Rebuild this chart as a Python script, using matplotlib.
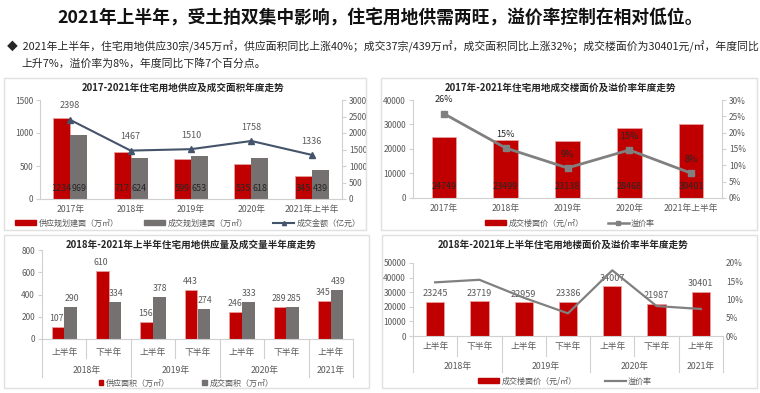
import matplotlib
matplotlib.use("Agg")
import matplotlib.pyplot as plt
import numpy as np
from matplotlib.patches import Rectangle, Patch
from matplotlib.lines import Line2D
from matplotlib.ticker import FuncFormatter
import matplotlib.transforms as mtrans

plt.rcParams['font.family'] = ['Noto Sans CJK SC', 'DejaVu Sans']

# ---- data ----
years = ["2017年", "2018年", "2019年", "2020年", "2021年上半年"]
supply_area = [1234, 717, 599, 535, 345]
deal_area = [969, 624, 653, 618, 439]
deal_amount = [2398, 1467, 1510, 1758, 1336]

floor_price = [24749, 23499, 23138, 28468, 30401]
premium_rate = [25.8, 15.3, 9.2, 14.7, 7.6]

half_labels = ["上半年", "下半年", "上半年", "下半年", "上半年", "下半年", "上半年"]
half_groups = ["2018年", "2019年", "2020年", "2021年"]
group_sizes = [2, 2, 2, 1]
half_supply = [107, 610, 156, 443, 246, 289, 345]
half_deal = [290, 334, 378, 274, 333, 285, 439]

half_price = [23245, 23719, 22959, 23386, 34007, 21987, 30401]
half_rate = [14.7, 15.4, 10.5, 6.2, 18.0, 8.2, 7.4]

RED = "#C00000"
GRAY = "#767171"
LINE_BLUE = "#44546A"
LINE_GRAY = "#808080"
AX_COL = "#D0D0D0"
TXT = "#595959"

W, H = 760, 393
fig = plt.figure(figsize=(W / 100, H / 100), dpi=100)


def rect(x0, y0, x1, y1):
    return [x0 / W, 1 - y1 / H, (x1 - x0) / W, (y1 - y0) / H]


def fx(x):
    return x / W


def fy(y):
    return 1 - y / H


def style_axis(ax, right=False):
    ax.spines["top"].set_visible(False)
    ax.spines["right"].set_visible(right)
    for s in ["left", "bottom", "right"]:
        ax.spines[s].set_color(AX_COL)
        ax.spines[s].set_linewidth(0.8)
    ax.tick_params(axis="y", length=3, color=AX_COL, labelsize=6, labelcolor=TXT, pad=2)
    ax.tick_params(axis="x", length=0, labelsize=6.3, labelcolor=TXT, pad=4)


# panel frames
for x0, y0, x1, y1 in [(4, 78, 366, 230), (381, 78, 757, 230), (4, 235, 369, 388), (382, 235, 757, 388)]:
    fig.add_artist(Rectangle((fx(x0), fy(y1)), (x1 - x0) / W, (y1 - y0) / H,
                             transform=fig.transFigure, facecolor="none",
                             edgecolor="#E0E0E0", linewidth=1))

# header
fig.text(0.5, fy(18), "2021年上半年，受土拍双集中影响，住宅用地供需两旺，溢价率控制在相对低位。",
         ha="center", va="center", fontsize=12.8, fontweight="bold", color="#111111")
fig.text(fx(7), fy(47), "◆  2021年上半年，住宅用地供应30宗/345万㎡，供应面积同比上涨40%；成交37宗/439万㎡，"
         "成交面积同比上涨32%；成交楼面价为30401元/㎡，年度同比",
         ha="left", va="center", fontsize=7.8, color="#262626")
fig.text(fx(21), fy(63), "上升7%，溢价率为8%，年度同比下降7个百分点。",
         ha="left", va="center", fontsize=7.8, color="#262626")

# ---- chart 1: top left ----
ax1 = fig.add_axes(rect(40, 100, 342, 199))
x = np.arange(len(years))
bw = 0.28
ax1.bar(x - bw / 2, supply_area, bw, color=RED, edgecolor="#E8A0A0", linewidth=0.6)
ax1.bar(x + bw / 2, deal_area, bw, color=GRAY)
ax1.set_xlim(-0.5, len(years) - 0.5)
ax1.set_ylim(0, 1500)
ax1.set_yticks(range(0, 1501, 500))
ax1.set_xticks(x)
ax1.set_xticklabels(years)
style_axis(ax1)
for i in range(len(years)):
    ax1.text(x[i] - bw / 2, 160, str(supply_area[i]), ha="center", va="center", fontsize=6.5, color="#262626")
    ax1.text(x[i] + bw / 2, 160, str(deal_area[i]), ha="center", va="center", fontsize=6.5, color="#262626")
ax1b = ax1.twinx()
ax1b.plot(x, deal_amount, color=LINE_BLUE, linewidth=1.5, marker="^", markersize=4)
ax1b.set_ylim(0, 3000)
ax1b.set_yticks(range(0, 3001, 500))
style_axis(ax1b, right=True)
ax1b.spines["left"].set_visible(False)
ax1b.spines["bottom"].set_visible(False)
for i in range(len(years)):
    ax1b.annotate(str(deal_amount[i]), (x[i], deal_amount[i]), xytext=(0, 10), textcoords="offset points",
                  ha="center", va="center", fontsize=6.5, color=TXT)
fig.text(fx(183), fy(88), "2017-2021年住宅用地供应及成交面积年度走势", ha="center", va="center",
         fontsize=6.9, fontweight="bold", color="#262626")
fig.legend(handles=[Patch(color=RED, label="供应规划建面（万㎡）"),
                    Patch(color=GRAY, label="成交规划建面（万㎡）"),
                    Line2D([], [], color=LINE_BLUE, marker="^", markersize=3, lw=1.5, label="成交金额（亿元）")],
           loc="center", bbox_to_anchor=(fx(188), fy(223)), ncol=3, frameon=False, fontsize=5.8,
           handlelength=2.6, handleheight=0.6, columnspacing=3.2, handletextpad=0.3, labelcolor=TXT)

# ---- chart 2: top right ----
ax2 = fig.add_axes(rect(413, 100, 722, 198))
bw2 = 0.4
ax2.bar(x, floor_price, bw2, color=RED, edgecolor="#E8A0A0", linewidth=0.6)
ax2.set_xlim(-0.5, len(years) - 0.5)
ax2.set_ylim(0, 40000)
ax2.set_yticks(range(0, 40001, 10000))
ax2.set_xticks(x)
ax2.set_xticklabels(years)
style_axis(ax2)
for i in range(len(years)):
    ax2.text(x[i], 4500, str(floor_price[i]), ha="center", va="center", fontsize=6.5, color="#262626")
ax2b = ax2.twinx()
ax2b.plot(x, premium_rate, color=LINE_GRAY, linewidth=2, marker="s", markersize=4)
ax2b.set_ylim(0, 30)
ax2b.set_yticks(range(0, 31, 5))
ax2b.yaxis.set_major_formatter(FuncFormatter(lambda v, p: f"{v:.0f}%"))
style_axis(ax2b, right=True)
ax2b.spines["left"].set_visible(False)
ax2b.spines["bottom"].set_visible(False)
for i in range(len(years)):
    ax2b.annotate(f"{premium_rate[i]:.0f}%", (x[i], premium_rate[i]), xytext=(0, 10), textcoords="offset points",
                  ha="center", va="center", fontsize=6.5, color="#262626")
fig.text(fx(561), fy(88), "2017年-2021年住宅用地成交楼面价及溢价率年度走势", ha="center", va="center",
         fontsize=6.9, fontweight="bold", color="#262626")
fig.legend(handles=[Patch(color=RED, label="成交楼面价（元/㎡）"),
                    Line2D([], [], color=LINE_GRAY, marker="s", markersize=3, lw=1.8, label="溢价率")],
           loc="center", bbox_to_anchor=(fx(570), fy(223)), ncol=2, frameon=False, fontsize=5.8,
           handlelength=2.6, handleheight=0.6, columnspacing=3.0, handletextpad=0.3, labelcolor=TXT)


def group_axis(ax, ax_h, y_sub, y_grp, y_short, y_long):
    tr = mtrans.blended_transform_factory(ax.transData, ax.transAxes)
    n = len(half_labels)
    for i, lab in enumerate(half_labels):
        ax.text(i, -y_sub / ax_h, lab, transform=tr, ha="center", va="center", fontsize=6.3, color=TXT)
    start = 0
    bounds = [-0.5]
    for g, size in zip(half_groups, group_sizes):
        ax.text(start + (size - 1) / 2, -y_grp / ax_h, g, transform=tr, ha="center", va="center",
                fontsize=6.3, color=TXT)
        for k in range(1, size):
            xs = start + k - 0.5
            ax.plot([xs, xs], [0, -y_short / ax_h], transform=tr, color=AX_COL, lw=0.8, clip_on=False)
        start += size
        bounds.append(start - 0.5)
    for xs in bounds:
        ax.plot([xs, xs], [0, -y_long / ax_h], transform=tr, color=AX_COL, lw=0.8, clip_on=False)
    ax.set_xticks([])
    ax.set_xlim(-0.5, n - 0.5)


# ---- chart 3: bottom left ----
ax3 = fig.add_axes(rect(42, 250, 353, 339))
xh = np.arange(len(half_labels))
bw3 = 0.285
ax3.bar(xh - bw3 / 2, half_supply, bw3, color=RED, edgecolor="#E8A0A0", linewidth=0.6)
ax3.bar(xh + bw3 / 2, half_deal, bw3, color=GRAY)
ax3.set_ylim(0, 800)
ax3.set_yticks(range(0, 801, 200))
style_axis(ax3)
for i in range(len(xh)):
    ax3.annotate(str(half_supply[i]), (xh[i] - bw3 / 2, half_supply[i]), xytext=(-0.8, 6),
                 textcoords="offset points", ha="center", va="center", fontsize=6.3, color=TXT)
    ax3.annotate(str(half_deal[i]), (xh[i] + bw3 / 2, half_deal[i]), xytext=(0.8, 6),
                 textcoords="offset points", ha="center", va="center", fontsize=6.3, color=TXT)
group_axis(ax3, 89, 13, 31, 19, 38)
fig.text(fx(191), fy(245), "2018年-2021年上半年住宅用地供应量及成交量半年度走势", ha="center", va="center",
         fontsize=6.9, fontweight="bold", color="#262626")
fig.legend(handles=[Patch(color=RED, label="供应面积（万㎡）"),
                    Patch(color=GRAY, label="成交面积（万㎡）")],
           loc="center", bbox_to_anchor=(fx(186), fy(383)), ncol=2, frameon=False, fontsize=5.8,
           handlelength=0.6, handleheight=0.6, columnspacing=4.0, handletextpad=0.3, labelcolor=TXT)

# ---- chart 4: bottom right ----
ax4 = fig.add_axes(rect(413, 263, 723, 336))
bw4 = 0.41
ax4.bar(xh, half_price, bw4, color=RED, edgecolor="#E8A0A0", linewidth=0.6)
ax4.set_ylim(0, 50000)
ax4.set_yticks(range(0, 50001, 10000))
style_axis(ax4)
for i in range(len(xh)):
    ax4.annotate(str(half_price[i]), (xh[i], half_price[i]), xytext=(0, 6), textcoords="offset points",
                 ha="center", va="center", fontsize=6.5, color=TXT)
group_axis(ax4, 73, 11, 31, 20, 36)
ax4b = ax4.twinx()
ax4b.plot(xh, half_rate, color=LINE_GRAY, linewidth=1.6)
ax4b.set_ylim(0, 20)
ax4b.set_yticks(range(0, 21, 5))
ax4b.yaxis.set_major_formatter(FuncFormatter(lambda v, p: f"{v:.0f}%"))
style_axis(ax4b, right=True)
ax4b.tick_params(axis="y", length=0)
ax4b.spines["left"].set_visible(False)
ax4b.spines["bottom"].set_visible(False)
ax4b.spines["right"].set_visible(False)
ax4b.set_xlim(-0.5, len(xh) - 0.5)
fig.text(fx(563), fy(245), "2018年-2021年上半年住宅用地楼面价及溢价率半年度走势", ha="center", va="center",
         fontsize=6.9, fontweight="bold", color="#262626")
fig.legend(handles=[Patch(color=RED, label="成交楼面价（元/㎡）"),
                    Line2D([], [], color=LINE_GRAY, lw=1.6, label="溢价率")],
           loc="center", bbox_to_anchor=(fx(565), fy(381)), ncol=2, frameon=False, fontsize=5.8,
           handlelength=2.6, handleheight=0.6, columnspacing=3.5, handletextpad=0.3, labelcolor=TXT)

fig.savefig("out.png", dpi=100, facecolor="white")
